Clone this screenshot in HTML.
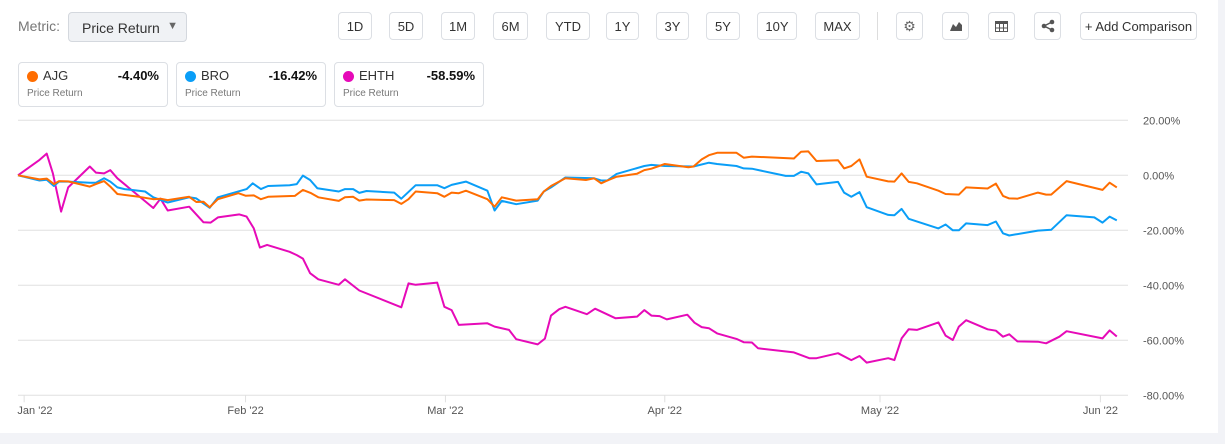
<!DOCTYPE html>
<html><head><meta charset="utf-8">
<style>
*{box-sizing:border-box;margin:0;padding:0}
body{width:1225px;height:444px;overflow:hidden;background:#fff;font-family:"Liberation Sans",Arial,sans-serif;color:#333;position:relative}
.abs{position:absolute}
.btn{position:absolute;top:12px;height:28px;border:1px solid #dcdfe4;border-radius:4px;background:#fff;font-size:13px;color:#333;display:flex;align-items:center;justify-content:center}
.leg{position:absolute;top:62px;width:150px;height:45px;border:1px solid #dcdfe4;border-radius:4px;background:#fff}
.leg .dot{position:absolute;left:8px;top:8px;width:11px;height:11px;border-radius:50%}
.leg .nm{position:absolute;left:24px;top:5px;font-size:13px;color:#333}
.leg .pct{position:absolute;right:8px;top:5px;font-size:13px;font-weight:bold;color:#111}
.leg .sub{position:absolute;left:8px;top:25px;font-size:10px;color:#777}
</style></head><body>
<div class="abs" style="left:1218px;top:0;width:7px;height:444px;background:#f2f3f7"></div>
<div class="abs" style="left:0;top:433px;width:1225px;height:11px;background:#f2f3f7"></div>

<div class="abs" style="left:18px;top:18px;font-size:14px;color:#777">Metric:</div>
<div class="abs" style="left:68px;top:12px;width:119px;height:30px;background:#f0f2f5;border:1px solid #d4d8de;border-radius:4px;font-size:14px;color:#333;padding:7px 0 0 13px">Price Return<span style="position:absolute;right:8px;top:7px;font-size:11px;color:#666">▼</span></div>

<div class="btn" style="left:338px;width:34px">1D</div>
<div class="btn" style="left:389px;width:34px">5D</div>
<div class="btn" style="left:441px;width:34px">1M</div>
<div class="btn" style="left:493px;width:35px">6M</div>
<div class="btn" style="left:546px;width:44px">YTD</div>
<div class="btn" style="left:606px;width:33px">1Y</div>
<div class="btn" style="left:656px;width:33px">3Y</div>
<div class="btn" style="left:706px;width:34px">5Y</div>
<div class="btn" style="left:757px;width:40px">10Y</div>
<div class="btn" style="left:815px;width:45px">MAX</div>
<div class="abs" style="left:877px;top:12px;width:1px;height:28px;background:#ddd"></div>
<div class="btn" style="left:896px;width:27px;font-size:14px;color:#666">⚙</div>
<div class="btn" style="left:942px;width:27px"><svg width="14" height="12"><path d="M1 11 L4 4 L7 7 L10 2 L13 5 L13 11 Z" fill="#555"/></svg></div>
<div class="btn" style="left:988px;width:27px"><svg width="13" height="11"><rect x="0.5" y="0.5" width="12" height="10" fill="none" stroke="#555"/><rect x="0" y="0" width="13" height="3" fill="#555"/><line x1="4.5" y1="3" x2="4.5" y2="11" stroke="#555"/><line x1="8.5" y1="3" x2="8.5" y2="11" stroke="#555"/><line x1="0" y1="7" x2="13" y2="7" stroke="#555"/></svg></div>
<div class="btn" style="left:1034px;width:27px"><svg width="14" height="14"><line x1="3" y1="7" x2="11" y2="3" stroke="#555" stroke-width="1.5"/><line x1="3" y1="7" x2="11" y2="11" stroke="#555" stroke-width="1.5"/><circle cx="3" cy="7" r="2.3" fill="#555"/><circle cx="11" cy="3" r="2.3" fill="#555"/><circle cx="11" cy="11" r="2.3" fill="#555"/></svg></div>
<div class="btn" style="left:1080px;width:117px">+ Add Comparison</div>

<div class="leg" style="left:18px"><div class="dot" style="background:#ff6d00"></div><div class="nm">AJG</div><div class="pct">-4.40%</div><div class="sub">Price Return</div></div>
<div class="leg" style="left:176px"><div class="dot" style="background:#0a9ef7"></div><div class="nm">BRO</div><div class="pct">-16.42%</div><div class="sub">Price Return</div></div>
<div class="leg" style="left:334px"><div class="dot" style="background:#e60ab8"></div><div class="nm">EHTH</div><div class="pct">-58.59%</div><div class="sub">Price Return</div></div>

<svg id="chart" class="abs" style="left:0;top:0" width="1218" height="433"></svg>

<script>
const yTicks=[20,0,-20,-40,-60,-80];
const yTickLabels=["20.00%","0.00%","-20.00%","-40.00%","-60.00%","-80.00%"];
const monthTicks=[0.6,22.2,41.7,63.1,84.1,105.6];
const monthLabels=["Jan '22","Feb '22","Mar '22","Apr '22","May '22","Jun '22"];

const ajgT=[0,2.1,2.8,3.5,4.0,4.9,7.0,7.6,8.4,9.0,9.7,11.8,13.2,13.9,14.6,16.7,17.4,18.1,18.7,19.5,21.5,22.2,23.0,23.7,24.4,27.0,27.8,28.6,29.3,31.3,31.9,32.7,33.3,34.0,36.7,37.4,38.1,38.8,40.9,41.6,42.3,43.0,43.7,45.8,46.5,47.2,48.6,50.7,51.3,52.0,53.4,55.4,56.2,56.9,57.5,58.4,60.4,61.1,61.8,63.1,65.4,65.9,66.7,67.4,68.2,70.1,70.8,71.6,75.7,76.4,77.1,77.9,80.0,80.6,81.3,82.1,82.8,84.9,85.5,86.2,86.9,87.7,89.8,90.5,91.8,92.5,94.6,95.4,96.1,96.7,97.5,99.5,100.3,100.8,102.3,105.8,106.5,107.2];
const ajgV=[0,-1.5,-1.2,-3.2,-2.1,-2.2,-4.1,-3.2,-2.1,-4.1,-6.8,-7.8,-8.7,-8.5,-9.0,-7.8,-9.7,-9.6,-11.6,-8.7,-6.5,-7.4,-7.3,-8.7,-7.8,-7.5,-5.3,-6.5,-8.0,-9.3,-8.0,-7.8,-9.2,-8.8,-9.0,-10.4,-8.7,-5.9,-6.5,-7.8,-6.3,-6.5,-5.6,-8.7,-11.4,-8.0,-9.2,-8.7,-5.9,-3.9,-1.1,-1.7,-1.1,-2.9,-1.9,-0.5,0.6,1.9,2.4,4.1,2.9,3.2,5.8,7.3,8.2,8.2,6.4,6.8,6.1,8.6,8.7,5.2,5.5,2.5,3.4,5.8,-0.5,-2.2,-2.3,0.7,-2.4,-2.9,-5.6,-6.8,-7.0,-4.4,-4.8,-3.0,-7.5,-8.4,-8.5,-6.3,-7.0,-7.0,-2.1,-5.3,-2.7,-4.4];

const broT=[0,2.1,2.8,3.5,4.0,4.9,7.0,7.6,8.4,9.0,9.7,10.4,12.4,13.2,14.6,16.7,17.4,18.7,19.5,22.3,22.9,23.7,24.4,26.5,27.2,27.8,28.5,29.2,31.3,31.9,32.7,33.3,34.0,36.7,37.4,38.8,40.9,41.6,42.3,43.7,45.8,46.5,47.2,48.6,50.7,51.3,52.0,53.4,56.2,56.9,57.5,58.4,61.1,61.8,63.1,65.9,67.4,68.2,70.1,70.8,71.6,74.9,75.7,76.4,77.1,77.9,80.0,80.6,81.3,82.1,82.8,84.9,85.5,86.2,86.9,89.8,90.5,91.2,91.8,92.5,94.6,95.4,96.1,96.7,99.5,100.8,102.3,105.0,105.8,106.5,107.2];
const broV=[0,-1.9,-1.6,-3.9,-2.3,-2.3,-2.7,-2.7,-1.1,-2.3,-4.4,-5.0,-5.9,-8.0,-9.9,-8.0,-8.4,-11.8,-8.0,-5.0,-2.9,-5.0,-3.9,-3.6,-3.2,-0.1,-1.7,-4.7,-5.9,-5.0,-5.0,-6.4,-5.7,-6.3,-8.5,-3.6,-3.6,-4.7,-3.5,-2.3,-5.6,-12.8,-9.3,-10.5,-9.2,-5.9,-4.4,-0.8,-1.1,-1.9,-1.9,0.5,3.4,3.8,3.4,3.2,4.6,4.1,3.4,2.5,2.4,-0.2,-0.2,1.3,0.7,-3.3,-2.4,-6.3,-7.8,-6.1,-11.6,-14.4,-14.5,-12.2,-15.8,-19.3,-17.9,-20.0,-20.0,-17.5,-18.1,-16.8,-21.1,-21.9,-20.1,-19.8,-14.5,-15.3,-17.2,-15.0,-16.4];

const ehthT=[0,2.1,2.8,3.4,4.2,4.9,7.0,7.6,8.4,9.0,9.7,13.2,13.9,14.6,16.7,18.1,18.8,19.5,21.6,22.3,23.0,23.6,24.3,26.5,27.2,27.8,28.5,29.3,31.3,31.9,33.3,37.4,38.1,38.8,40.9,41.6,42.3,43.0,45.8,46.5,47.9,48.6,50.7,51.4,52.0,52.8,53.4,55.5,56.3,58.3,60.4,61.1,61.8,62.6,63.3,65.3,66.0,66.7,67.4,68.2,70.1,70.8,71.6,72.2,75.7,77.2,77.9,80.0,81.3,82.1,82.8,84.9,85.5,86.2,86.9,87.7,89.8,90.5,91.2,91.8,92.5,94.6,95.4,96.1,96.7,97.5,99.5,100.3,101.6,102.3,105.8,106.5,107.2];
const ehthV=[0,5.6,7.9,0.7,-13.2,-4.4,3.2,1.0,0.7,1.9,-1.1,-11.9,-8.5,-12.8,-11.4,-17.1,-17.2,-15.3,-14.2,-15.0,-19.3,-26.3,-25.3,-27.8,-29.0,-30.3,-35.6,-37.8,-39.8,-37.8,-41.9,-48.0,-39.3,-39.8,-39.0,-47.8,-49.0,-54.4,-53.8,-55.0,-56.2,-59.6,-61.5,-59.4,-51.0,-48.7,-47.8,-50.5,-48.5,-52.0,-51.4,-49.0,-51.0,-51.2,-52.4,-50.7,-53.6,-55.2,-55.6,-57.5,-59.5,-60.7,-60.8,-62.9,-64.4,-66.5,-66.5,-64.7,-67.2,-65.7,-68.1,-66.5,-67.2,-59.3,-56.0,-56.2,-53.5,-58.3,-59.9,-55.0,-52.7,-56.0,-56.5,-58.7,-57.8,-60.4,-60.5,-61.1,-58.7,-56.7,-59.3,-56.4,-58.6];

const NS="http://www.w3.org/2000/svg";
const svg=document.getElementById('chart');
const X0=18,PX=10.25,XR=1128;
const xScale=t=>X0+t*PX;
const yScale=v=>175.3-v*2.75;
function mk(tag,attrs){const e=document.createElementNS(NS,tag);for(const k in attrs)e.setAttribute(k,attrs[k]);svg.appendChild(e);return e;}

yTicks.forEach((v,i)=>{
  const g=mk('line',{x1:X0,x2:XR,y1:yScale(v),y2:yScale(v),stroke:'#e0e0e0','stroke-width':1});
  
  
  const t=mk('text',{x:1143,y:yScale(v)+4,'font-size':11,fill:'#555','font-family':'Liberation Sans, sans-serif'});
  t.textContent=yTickLabels[i];
  
  
});
monthTicks.forEach((m,i)=>{
  const x=xScale(m);
  const tk=mk('line',{x1:x,x2:x,y1:yScale(-80),y2:yScale(-80)+7,stroke:'#e0e0e0'});
  
  
  const lx=Math.max(x,35);
  const t=mk('text',{x:lx,y:414,'font-size':11,fill:'#555','text-anchor':'middle','font-family':'Liberation Sans, sans-serif'});
  t.textContent=monthLabels[i];
  
  
});
function series(T,V,color,name){
  const d=T.map((t,i)=>(i?'L':'M')+xScale(t).toFixed(1)+' '+yScale(V[i]).toFixed(1)).join(' ');
  const p=mk('path',{d:d,fill:'none',stroke:color,'stroke-width':2,'stroke-linejoin':'round'});
  
  
}
series(ehthT,ehthV,'#e60ab8','ehth-line');
series(broT,broV,'#0a9ef7','bro-line');
series(ajgT,ajgV,'#ff6d00','ajg-line');
</script>
</body></html>
